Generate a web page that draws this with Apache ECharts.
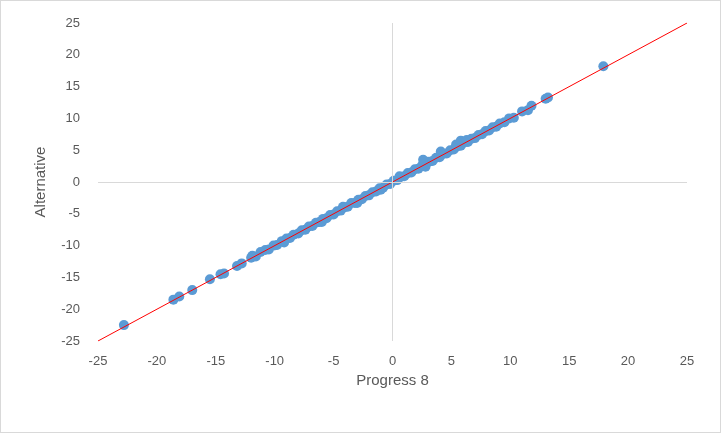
<!DOCTYPE html>
<html><head><meta charset="utf-8">
<script src="https://cdn.jsdelivr.net/npm/echarts@6/dist/echarts.min.js"></script>
<style>html,body{margin:0;padding:0;background:#fff}#c{width:721px;height:433px;box-sizing:border-box;border:1px solid #d9d9d9}</style>
</head><body><div id="c"></div>
<script>
const progress8 = [-22.8,-18.6,-18.1,-17.0,-15.5,-14.6,-14.3,-13.2,-12.8,-12.0,-11.6,-11.2,-10.8,-10.5,-10.1,-9.8,-9.4,-9.0,-8.7,-8.4,-8.0,-7.7,-7.4,-7.1,-6.8,-6.5,-6.2,-5.9,-5.6,-5.3,-5.0,-4.7,-4.4,-4.1,-3.8,-3.5,-3.2,-2.9,-2.6,-2.3,-2.0,-1.7,-1.4,-1.1,-0.8,-0.5,-0.2,0.1,0.4,0.7,1.0,1.3,1.6,1.9,2.2,2.5,2.8,3.1,3.4,3.7,4.0,4.3,4.6,4.9,5.2,5.5,5.8,6.1,6.4,6.7,7.0,7.3,7.6,7.9,8.2,8.5,8.8,9.1,9.5,9.9,10.3,11.0,11.5,11.8,13.0,13.2,17.9,-6.0,-4.2,-3.0,-1.0,0.6,2.6,2.8,5.4,5.8,6.3,-9.2,-11.9,4.1];
const alternative = [-22.5,-18.5,-18.0,-17.0,-15.3,-14.5,-14.4,-13.2,-12.8,-11.9,-11.7,-11.0,-10.7,-10.6,-10.0,-9.9,-9.3,-8.9,-8.8,-8.3,-8.1,-7.6,-7.5,-7.0,-6.9,-6.4,-6.3,-5.8,-5.7,-5.2,-5.1,-4.6,-4.5,-4.0,-3.9,-3.3,-3.3,-2.8,-2.7,-2.2,-2.1,-1.6,-1.5,-1.0,-0.9,-0.4,-0.3,0.2,0.3,0.8,0.9,1.4,1.5,2.0,2.1,2.6,2.7,3.2,3.3,3.8,3.9,4.4,4.5,5.0,5.1,5.6,5.7,6.2,6.3,6.8,6.9,7.4,7.5,8.0,8.1,8.6,8.7,9.2,9.4,10.0,10.1,11.1,11.3,12.0,13.1,13.3,18.2,-6.3,-3.9,-3.3,-1.2,0.9,3.5,2.4,5.9,6.5,6.6,-9.5,-11.6,4.8];
const fitLine = [[-25,-25],[25,25]];
const ticks = [-25,-20,-15,-10,-5,0,5,10,15,20,25];
const pts = progress8.map((x,i)=>[x,alternative[i]]);
const lab = {color:'#595959',fontSize:13,fontFamily:'Liberation Sans, Arial'};
const ch = echarts.init(document.getElementById('c'));
ch.setOption({
 animation:false,
 grid:{left:97,right:33,top:22,bottom:91},
 xAxis:{type:'value',min:-25,max:25,interval:5,name:'Progress 8',nameLocation:'middle',nameGap:30,
   nameTextStyle:{color:'#595959',fontSize:15,fontFamily:'Liberation Sans, Arial'},
   axisLine:{show:false},axisTick:{show:false},splitLine:{show:false},axisLabel:Object.assign({margin:14},lab)},
 yAxis:{type:'value',min:-25,max:25,interval:5,name:'Alternative',nameLocation:'middle',nameGap:50,
   nameTextStyle:{color:'#595959',fontSize:15,fontFamily:'Liberation Sans, Arial'},
   axisLine:{show:false},axisTick:{show:false},splitLine:{show:false},axisLabel:Object.assign({margin:18},lab)},
 series:[
  {type:'scatter',data:pts,symbolSize:10,itemStyle:{color:'#5b9bd5',opacity:1},
   markLine:{silent:true,symbol:'none',label:{show:false},lineStyle:{color:'#d9d9d9',type:'solid',width:1},
     data:[{xAxis:0},{yAxis:0}]}},
  {type:'line',data:fitLine,symbol:'none',lineStyle:{color:'#ff0000',width:1}}
 ]
});
</script></body></html>
